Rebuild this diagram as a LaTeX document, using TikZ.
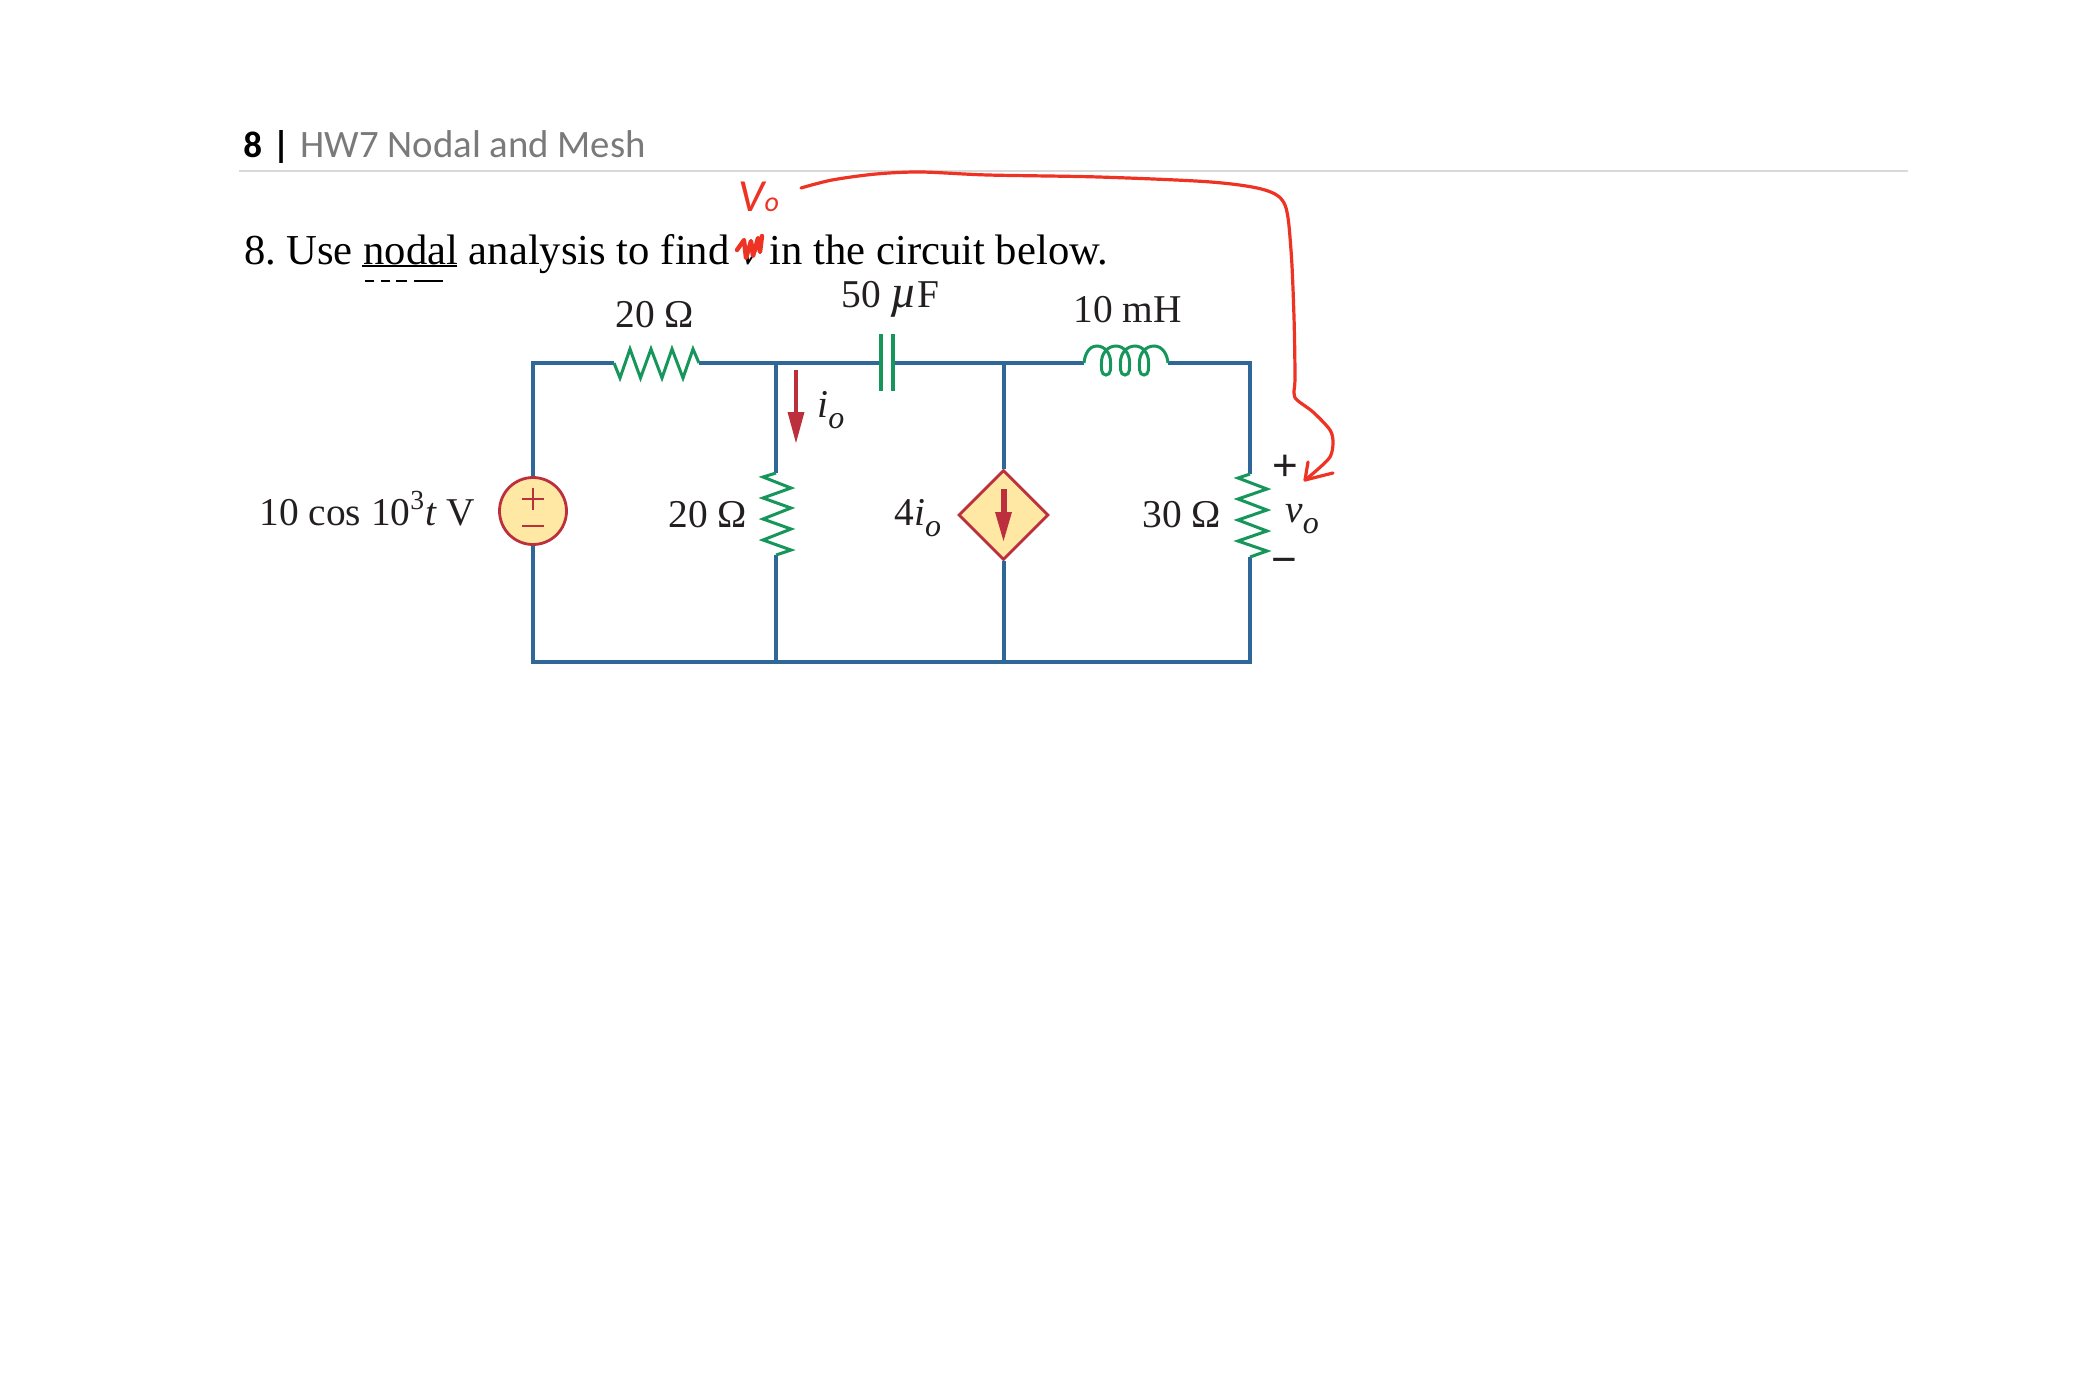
\documentclass[tikz,border=0pt]{standalone}
\usepackage{fontspec}
\setmainfont{Liberation Serif}
\newfontfamily\hdrfont{Carlito}
\newfontfamily\signfont{Liberation Sans}
\usetikzlibrary{positioning,shapes,arrows.meta}

\definecolor{wireblue}{HTML}{2F6798}
\definecolor{partgreen}{HTML}{16965A}
\definecolor{srcred}{HTML}{BC2F3D}
\definecolor{srcfill}{HTML}{FFE8A4}
\definecolor{inkred}{HTML}{EE3224}
\definecolor{txtblack}{HTML}{231F20}

\tikzset{
  wire/.style={draw=wireblue, line width=1.6pt},
  part/.style={draw=partgreen, line width=1.5pt, line join=miter},
  ink/.style={draw=inkred, line width=1.6pt, line cap=round, line join=round},
  lbl/.style={anchor=base west, inner sep=0pt, text=txtblack, font=\fontsize{19.7}{22}\selectfont},
  sign/.style={inner sep=0pt, font=\signfont\fontsize{22}{24}\selectfont},
}
\newcommand{\subbed}[2]{\textit{#1}\raisebox{-0.28em}{\fontsize{16}{18}\selectfont\textit{#2}}}

\begin{document}
\begin{tikzpicture}[x=0.5pt, y=-0.5pt]
    \useasboundingbox (0,0) rectangle (2085,1383);

    % page header and question
    \node[anchor=base west, inner sep=0pt, font=\hdrfont\bfseries\fontsize{18.5}{20}\selectfont] (pagenum) at (243,157) {8};
    \node[anchor=base west, inner sep=0pt, font=\hdrfont\bfseries\fontsize{18.5}{20}\selectfont] (pagebar) at (272,157) {|};
    \node[anchor=base west, inner sep=0pt, text=black!52, font=\hdrfont\fontsize{19.4}{20}\selectfont] (pagetitle) at (300,157) {HW7 Nodal and Mesh};
    \coordinate (rulea) at (239,171);
    \coordinate (ruleb) at (1908,171);
    \draw[black!15, line width=1pt] (rulea) -- (ruleb);

    \node[anchor=base west, inner sep=0pt, font=\fontsize{21.32}{24}\selectfont] (question) at (244,264) {8.\hspace{-2pt} Use nodal analysis to find \textit{v} in the circuit below.};
    \coordinate (ula) at (362,266);
    \coordinate (ulb) at (457,266);
    \draw[black, line width=0.7pt] (ula) -- (ulb);
    \draw[black, line width=0.7pt] (365,281) -- (374,281) (381,281) -- (390,281) (396,281) -- (407,281) (414,281) -- (443,281);

    % corners and junctions
    \coordinate (tl) at (533,363);
    \coordinate (tm) at (776,363);
    \coordinate (tn) at (1004,363);
    \coordinate (tr) at (1250,363);
    \coordinate (bl) at (533,662);
    \coordinate (bm) at (776,662);
    \coordinate (bn) at (1004,662);
    \coordinate (br) at (1250,662);

    \coordinate (r1a) at (614,363);
    \coordinate (r1b) at (699,363);
    \coordinate (c1a) at (881,363);
    \coordinate (c1b) at (893,363);
    \coordinate (l1a) at (1084,363);
    \coordinate (l1b) at (1168,363);
    \coordinate (r2a) at (776,473);
    \coordinate (r2b) at (776,555);
    \coordinate (r3a) at (1250,474);
    \coordinate (r3b) at (1250,557);

    % sources
    \node[circle, draw=srcred, fill=srcfill, line width=1.4pt, inner sep=0pt, minimum size=33.5pt] (src) at (533,511) {};
    \node[diamond, draw=srcred, fill=srcfill, line width=1.4pt, inner sep=0pt, aspect=1, minimum width=45pt, minimum height=45pt] (dep) at (1003.5,515) {};

    % wires
    \draw[wire] (src) -- (tl) -- (r1a);
    \draw[wire] (r1b) -- (c1a);
    \draw[wire] (c1b) -- (l1a);
    \draw[wire] (l1b) -- (tr) -- (r3a);
    \draw[wire] (tm) -- (r2a);
    \draw[wire] (r2b) -- (bm);
    \draw[wire] (tn) -- (tn |- dep.north);
    \draw[wire] (tn |- dep.south) -- (bn);
    \draw[wire] (src) -- (bl) -- (br) -- (r3b);

    % resistors, capacitor, inductor
    \draw[part] (r1a) -- (620,378) -- (630,349) -- (640.5,378) -- (651,349) -- (662,378) -- (672,349) -- (683,378) -- (693,349) -- (r1b);
    \draw[part] (r2a) -- (763,477) -- (791,488) -- (763,498) -- (791,508) -- (763,519) -- (791,529) -- (763,540) -- (791,550) -- (r2b);
    \draw[part] (r3a) -- (1238,478) -- (1267,489) -- (1238,499) -- (1267,510) -- (1238,520) -- (1267,531) -- (1238,541) -- (1267,551) -- (r3b);
    \draw[part, line width=1.8pt] (881,334) -- (881,391);
    \draw[part, line width=1.8pt] (893,334) -- (893,391);
    \draw[part] (l1a) to[out=85,in=180] (1097,346) to[out=0,in=90] (1110.5,362) to[out=-90,in=0] (1106,375) to[out=180,in=-90] (1101.5,362)
        to[out=90,in=180] (1116,346) to[out=0,in=90] (1129.5,362) to[out=-90,in=0] (1125,375) to[out=180,in=-90] (1120.5,362)
        to[out=90,in=180] (1135,346) to[out=0,in=90] (1148.5,362) to[out=-90,in=0] (1144,375) to[out=180,in=-90] (1139.5,362)
        to[out=90,in=180] (1154,346) to[out=0,in=95] (l1b);

    % current arrows and source signs
    \coordinate (ioa) at (796,370);
    \coordinate (iob) at (796,443);
    \draw[draw=srcred, fill=srcred, line width=1.7pt, -{Triangle[length=15.5pt, width=8.5pt, line width=0pt]}] (ioa) -- (iob);
    \coordinate (depa) at (1003.5,489);
    \coordinate (depb) at (1003.5,541);
    \draw[draw=srcred, fill=srcred, line width=3pt, -{Triangle[length=14.5pt, width=8.5pt, line width=0pt]}] (depa) -- (depb);
    \draw[draw=srcred, line width=1.3pt] (522,499) -- (544,499) (533,488) -- (533,510) (522,526) -- (544,526);

    % labels
    \node[lbl] (r1lbl) at (615,327) {20 Ω};
    \node[lbl] (c1lbl) at (841,307) {50 {\fontsize{23}{24}\selectfont\textit{µ}}F};
    \node[lbl] (l1lbl) at (1073,322) {10 mH};
    \node[lbl] (srclbl) at (259,525) {10 cos 10\textsuperscript{3}\textit{t} V};
    \node[lbl] (r2lbl) at (668,527) {20 Ω};
    \node[lbl] (deplbl) at (894,525) {4\subbed{i}{o}};
    \node[lbl] (r3lbl) at (1142,527) {30 Ω};
    \node[lbl] (iolbl) at (817,417) {\subbed{i}{o}};
    \node[lbl] (volbl) at (1285,522) {\subbed{v}{o}};
    \node[sign, text=txtblack] (voplus) at (1285,468) {+};
    \node[sign, text=txtblack] (vominus) at (1284,566) {−};

    % red handwriting
    \node[anchor=base west, inner sep=0pt, text=inkred, font=\hdrfont\itshape\fontsize{23}{24}\selectfont] (vohand) at (738,211) {V\fontsize{14}{15}\selectfont o};
    \coordinate (inka) at (801,188);
    \coordinate (inkb) at (1305,480);
    \draw[ink] plot[smooth, tension=0.5] coordinates {(inka) (832,180) (876,174) (921,172) (988,175) (1099,177) (1211,182) (1265,190) (1285,205) (1291,250) (1294,317) (1295,377) (1294,393) (1297,400) (1313,412) (1330,430) (1333,443) (1330,457) (1317,470) (inkb)};
    \draw[ink] (1308,462) -- (inkb) -- (1333,473);
    \coordinate (blota) at (737,250);
    \draw[ink, line width=2.2pt] (blota) -- (744,240) -- (746,258) -- (751,241) -- (753,256) -- (758,238) -- (760,252) -- (762,236);
\end{tikzpicture}
\end{document}
